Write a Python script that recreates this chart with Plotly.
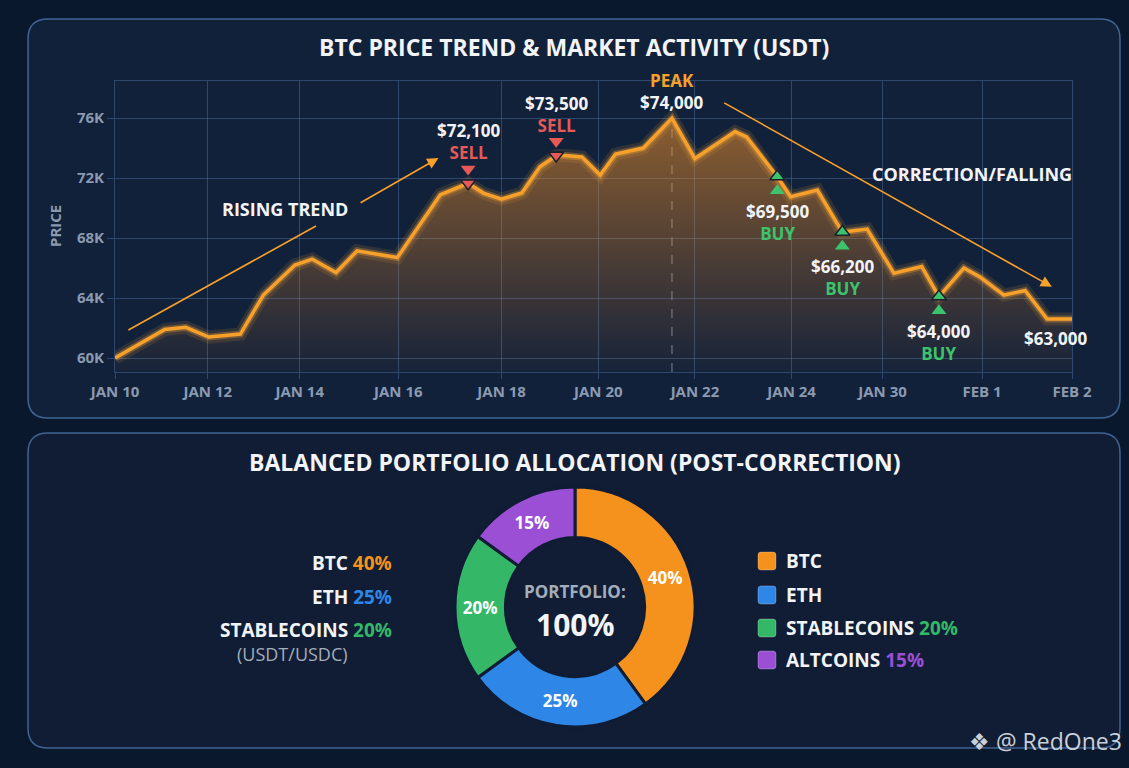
import plotly.graph_objects as go

W, H = 1129, 768

# price line, x given in axis units (tick positions below), price in K USDT
x_pos = [0.00, 0.52, 0.74, 0.98, 1.31, 1.55, 1.88, 2.06, 2.31, 2.53, 2.95, 3.40, 3.69, 3.85,
         4.04, 4.25, 4.44, 4.61, 4.70, 4.88, 5.07, 5.23, 5.52, 5.82, 6.06, 6.48, 6.60, 6.92,
         7.06, 7.34, 7.60, 7.86, 8.14, 8.43, 8.61, 8.87, 9.04, 9.29, 9.51, 9.74, 10.00]
price_k = [60.0, 61.9, 62.05, 61.4, 61.6, 64.2, 66.2, 66.6, 65.7, 67.15, 66.7, 70.9, 71.65, 71.0,
           70.6, 71.0, 72.75, 73.5, 73.5, 73.4, 72.2, 73.6, 74.0, 76.0, 73.3, 75.1, 74.75, 72.1,
           70.75, 71.2, 68.4, 68.6, 65.65, 66.1, 64.1, 66.0, 65.4, 64.2, 64.5, 62.6, 62.6]

tick_pos = [0, 0.97, 1.93, 2.96, 4.04, 5.05, 6.06, 7.07, 8.02, 9.06, 10.0]
tick_text = ["JAN 10", "JAN 12", "JAN 14", "JAN 16", "JAN 18", "JAN 20",
             "JAN 22", "JAN 24", "JAN 30", "FEB 1", "FEB 2"]
y_ticks = [60, 64, 68, 72, 76]
y_tick_text = ["60K", "64K", "68K", "72K", "76K"]

sell_idx = [12, 17]
sell_labels = ["$72,100", "$73,500"]
buy_idx = [27, 30, 34]
buy_labels = ["$69,500", "$66,200", "$64,000"]
peak_idx = 23
peak_label = "$74,000"
last_label = "$63,000"

# portfolio
assets = ["BTC", "ETH", "STABLECOINS", "ALTCOINS"]
weights = [40, 25, 20, 15]
asset_colors = ["#f5921e", "#2e86e6", "#34b868", "#9a4fd4"]

ORANGE = "#f7a12b"
RED = "#e65a56"
GREEN = "#3cc46c"
GREY = "#8b9ab0"
WHITE = "#f2f4f7"
FONT = "Open Sans"


def px(x):
    return x / W


def py(y):
    return 1 - y / H


def rounded_rect(x0, y0, x1, y1, r):
    # path in paper coords built from pixel corners
    pts = [
        ("M", [(x0 + r, y0)]), ("L", [(x1 - r, y0)]), ("Q", [(x1, y0), (x1, y0 + r)]),
        ("L", [(x1, y1 - r)]), ("Q", [(x1, y1), (x1 - r, y1)]), ("L", [(x0 + r, y1)]),
        ("Q", [(x0, y1), (x0, y1 - r)]), ("L", [(x0, y0 + r)]), ("Q", [(x0, y0), (x0 + r, y0)]),
    ]
    s = ""
    for cmd, coords in pts:
        s += cmd + " " + " ".join("%.5f,%.5f" % (px(a), py(b)) for a, b in coords) + " "
    return s + "Z"


fig = go.Figure()

# gradient area under the line
fig.add_trace(go.Scatter(
    x=x_pos, y=price_k, mode="lines", line=dict(width=0), fill="tozeroy",
    fillgradient=dict(type="vertical", start=59, stop=76,
                      colorscale=[[0, "rgba(240,140,40,0.02)"], [1, "rgba(240,145,40,0.55)"]]),
    hoverinfo="skip", showlegend=False,
))
# glow
fig.add_trace(go.Scatter(x=x_pos, y=price_k, mode="lines",
                         line=dict(color="rgba(255,170,60,0.12)", width=13),
                         hoverinfo="skip", showlegend=False))
fig.add_trace(go.Scatter(x=x_pos, y=price_k, mode="lines",
                         line=dict(color="rgba(255,170,60,0.3)", width=7),
                         hoverinfo="skip", showlegend=False))
fig.add_trace(go.Scatter(x=x_pos, y=price_k, mode="lines",
                         line=dict(color=ORANGE, width=3.5), name="BTC",
                         showlegend=False))

# sell / buy signals
sell_x = [x_pos[i] for i in sell_idx]
sell_y = [price_k[i] for i in sell_idx]
buy_x = [x_pos[i] for i in buy_idx]
buy_y = [price_k[i] for i in buy_idx]

fig.add_trace(go.Scatter(x=sell_x, y=sell_y, mode="markers",
                         marker=dict(symbol="triangle-down", size=13, color=RED,
                                     line=dict(color="#1a1f2e", width=1.5)),
                         showlegend=False))
fig.add_trace(go.Scatter(x=sell_x, y=[v + 0.95 for v in sell_y], mode="markers",
                         marker=dict(symbol="triangle-down", size=13, color=RED),
                         showlegend=False))
fig.add_trace(go.Scatter(x=buy_x, y=buy_y, mode="markers",
                         marker=dict(symbol="triangle-up", size=13, color=GREEN,
                                     line=dict(color="#1a1f2e", width=1.5)),
                         showlegend=False))
fig.add_trace(go.Scatter(x=buy_x, y=[v - 0.95 for v in buy_y], mode="markers",
                         marker=dict(symbol="triangle-up", size=13, color=GREEN),
                         showlegend=False))

# donut
fig.add_trace(go.Pie(
    labels=assets, values=weights, hole=0.58, sort=False, direction="clockwise",
    marker=dict(colors=asset_colors, line=dict(color="#0f1c33", width=3)),
    texttemplate="<b>%{percent:.0%}</b>", textposition="inside",
    insidetextorientation="horizontal",
    textfont=dict(color="white", size=17, family=FONT),
    domain=dict(x=[px(455), px(695)], y=[py(727), py(487)]),
    showlegend=False,
))

annotations = []


def note(text, x, y, size=17, color=WHITE, xshift=0, yshift=0, xanchor="center",
         yanchor="middle", ref="data", **kw):
    a = dict(text=text, x=x, y=y, showarrow=False, xanchor=xanchor, yanchor=yanchor,
             xshift=xshift, yshift=yshift, font=dict(family=FONT, size=size, color=color), **kw)
    if ref == "paper":
        a.update(xref="paper", yref="paper")
    annotations.append(a)


for x, y, lab in zip(sell_x, sell_y, sell_labels):
    note("<b>%s</b><br><span style='color:%s'><b>SELL</b></span>" % (lab, RED),
         x, y, yanchor="bottom", yshift=17)

for x, y, lab in zip(buy_x, buy_y, buy_labels):
    note("<b>%s</b><br><span style='color:%s'><b>BUY</b></span>" % (lab, GREEN),
         x, y, yanchor="top", yshift=-21)

note("<b><span style='color:%s'>PEAK</span><br>%s</b>" % (ORANGE, peak_label),
     x_pos[peak_idx], price_k[peak_idx], yanchor="bottom", yshift=2)
note("<b>%s</b>" % last_label, x_pos[-1], price_k[-1], xshift=-17, yshift=-19)

note("<b>RISING TREND</b>", 1.78, 69.93, size=18)
note("<b>CORRECTION/FALLING</b>", 8.95, 72.27, size=18)

# trend arrows
annotations.append(dict(x=3.38, y=73.33, ax=2.55, ay=70.3, axref="x", ayref="y",
                        showarrow=True, arrowhead=2, arrowsize=1.4, arrowwidth=1.6,
                        arrowcolor=ORANGE, text=""))
annotations.append(dict(x=9.79, y=64.75, ax=6.35, ay=77.07, axref="x", ayref="y",
                        showarrow=True, arrowhead=2, arrowsize=1.4, arrowwidth=1.6,
                        arrowcolor=ORANGE, text=""))

# titles and text in paper coords
note("<b>BTC PRICE TREND & MARKET ACTIVITY (USDT)</b>", px(574), py(47), size=23, ref="paper")
note("<b>BALANCED PORTFOLIO ALLOCATION (POST-CORRECTION)</b>", px(575), py(462), size=23, ref="paper")
note("<b>PRICE</b>", px(55), py(226), size=15, color=GREY, ref="paper", textangle=-90)

note("<b>PORTFOLIO:</b>", px(575), py(591), size=17, color="#a3adbb", ref="paper")
note("<b>100%</b>", px(575), py(624), size=30, ref="paper")

left_rows = [563, 597, 630]
for i in range(3):
    note("<b>%s <span style='color:%s'>%d%%</span></b>" % (assets[i], asset_colors[i], weights[i]),
         px(394), py(left_rows[i]), size=19, xanchor="right", ref="paper")
note("(USDT/USDC)", px(350), py(654), size=18, color="#a3adbb", ref="paper", xanchor="right")

legend_rows = [561, 595, 628, 660]
legend_text = ["BTC", "ETH",
               "STABLECOINS <span style='color:%s'>20%%</span>" % asset_colors[2],
               "ALTCOINS <span style='color:%s'>15%%</span>" % asset_colors[3]]
shapes = []
for i, yy in enumerate(legend_rows):
    note("<b>%s</b>" % legend_text[i], px(784), py(yy), size=19, xanchor="left", ref="paper")
    shapes.append(dict(type="path", xref="paper", yref="paper",
                       path=rounded_rect(758, yy - 9, 776, yy + 9, 3),
                       fillcolor=asset_colors[i], line=dict(color="rgba(255,255,255,0.25)", width=1)))

note("❖ @ RedOne3", px(1124), py(741), size=23, color="#c9d0da", xanchor="right", ref="paper")

# panels
panel_shapes = [
    dict(type="path", xref="paper", yref="paper", layer="below",
         path=rounded_rect(28, 19, 1120, 418, 20), fillcolor="#12213a",
         line=dict(color="rgba(90,140,200,0.65)", width=1.5)),
    dict(type="path", xref="paper", yref="paper", layer="below",
         path=rounded_rect(28, 433, 1120, 748, 20), fillcolor="#101d34",
         line=dict(color="rgba(90,140,200,0.65)", width=1.5)),
]

# dashed line under the peak
peak_line = dict(type="line", xref="x", yref="y", x0=x_pos[peak_idx], x1=x_pos[peak_idx],
                 y0=59.07, y1=price_k[peak_idx], layer="below",
                 line=dict(color="rgba(200,210,225,0.55)", width=1, dash="dash"))
# left part of the rising trend arrow, broken by its label
rise_line = dict(type="line", xref="x", yref="y", x0=0.14, y0=61.87, x1=2.10, y1=68.8,
                 line=dict(color=ORANGE, width=1.6))

grid = "rgba(80,120,170,0.45)"
fig.update_layout(
    width=W, height=H, autosize=False,
    margin=dict(l=0, r=0, t=0, b=0),
    paper_bgcolor="#0a182d", plot_bgcolor="rgba(0,0,0,0)",
    font=dict(family=FONT, color=WHITE),
    showlegend=False,
    annotations=annotations,
    shapes=panel_shapes + [peak_line, rise_line] + shapes,
    xaxis=dict(domain=[px(115), px(1072)], range=[0, 10], tickvals=tick_pos, ticktext=tick_text,
               showgrid=True, gridcolor=grid, gridwidth=1, zeroline=False,
               showline=True, linecolor=grid, mirror=True, ticks="outside", ticklen=6,
               tickcolor=grid, automargin=False,
               tickfont=dict(family=FONT, size=15, color=GREY, weight="bold")),
    yaxis=dict(domain=[py(372), py(81)], range=[59.07, 78.47], tickvals=y_ticks,
               ticktext=y_tick_text, showgrid=True, gridcolor=grid, gridwidth=1, zeroline=False,
               showline=True, linecolor=grid, mirror=True, ticks="outside", ticklen=7,
               tickcolor=grid, automargin=False,
               tickfont=dict(family=FONT, size=15, color=GREY, weight="bold")),
)

fig.write_html("out.html", config={"displayModeBar": False},
               post_script=["document.body.style.margin='0';"
                            "document.body.style.background='#0a182d';"])
